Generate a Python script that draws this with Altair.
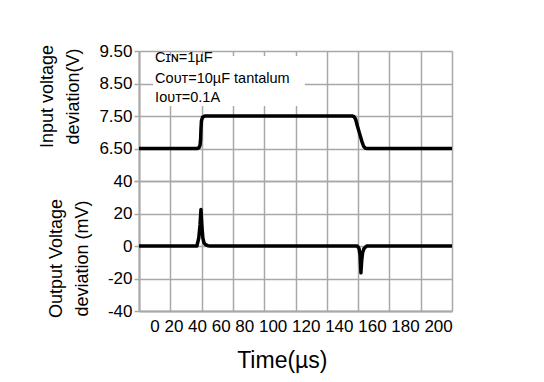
import altair as alt
import pandas as pd

# ---- data ----
t_in = [0, 37, 38.3, 39.0, 39.4, 39.6, 39.9, 40.6, 42, 136.2, 137.4, 138.4, 139.5, 141, 142.4, 143.5, 144.6, 146, 200]
v_in = [6.5, 6.5, 6.52, 6.6, 6.8, 7.1, 7.35, 7.46, 7.5, 7.5, 7.48, 7.4, 7.2, 6.95, 6.72, 6.57, 6.51, 6.5, 6.5]

t_out = [0, 37, 38.2, 39.0, 39.6, 40.2, 40.8, 41.5, 42.5, 44, 46, 139.5, 140.6, 141.3, 141.8, 142.3, 142.9, 143.8, 145.5, 200]
v_out = [0, 0, 5, 13, 22.5, 12, 5, 2, 0.8, 0.2, 0, 0, -1.5, -6, -16.5, -9, -4, -1.5, 0, 0]

x_tick_labels = ["0", "20", "40", "60", "80", "100", "120", "140", "160", "180", "200"]
x_grid = [0, 20, 40, 60, 80, 100, 120, 140, 160, 180, 200]
in_ticks = [5.5, 6.5, 7.5, 8.5, 9.5]
out_ticks = [-40, -20, 0, 20, 40]
notes = ["C\u026a\u0274=1\u00b5F", "C\u1d0f\u1d1c\u1d1b=10\u00b5F tantalum", "I\u1d0f\u1d1c\u1d1b=0.1A"]
note_y = [9.28, 8.64, 8.05]

GRID = "#a8a8a8"
FONT = "Liberation Sans"
W, H = 313, 130

df_in = pd.DataFrame({"t": t_in, "v": v_in})
df_out = pd.DataFrame({"t": t_out, "v": v_out})
df_notes = pd.DataFrame({"label": notes, "y": note_y})

xscale = alt.Scale(domain=[0, 200], nice=False, zero=False)
yscale_top = alt.Scale(domain=[5.5, 9.5], nice=False, zero=False)

top_x_axis = alt.Axis(values=x_grid, labels=False, ticks=False, domain=False, title=None,
                      grid=True, gridColor=GRID, gridWidth=1.5, gridOpacity=1)
top_y_axis = alt.Axis(values=in_ticks,
                      labelExpr="datum.value == 5.5 ? '' : format(datum.value, '.2f')",
                      tickSize=5, tickColor=GRID, tickWidth=1.5, labelPadding=2,
                      labelFontSize=17, domainColor=GRID, domainWidth=2,
                      grid=True, gridColor=GRID, gridWidth=1.5, gridOpacity=1,
                      title=["Input voltage", "deviation(V)"], titleFontSize=18,
                      titleFontWeight="normal", titleLineHeight=26, titlePadding=16, titleY=45)

top_line = alt.Chart(df_in).mark_line(color="black", strokeWidth=3.5, strokeJoin="round").encode(
    x=alt.X("t:Q", scale=xscale, axis=top_x_axis),
    y=alt.Y("v:Q", scale=yscale_top, axis=top_y_axis),
)

box = alt.Chart(pd.DataFrame({"a": [0]})).mark_rect(fill="white").encode(
    x=alt.X(datum=9, scale=xscale, axis=top_x_axis), x2=alt.X2(datum=106),
    y=alt.Y(datum=9.35, scale=yscale_top, axis=top_y_axis), y2=alt.Y2(datum=7.81),
)

txt = alt.Chart(df_notes).mark_text(align="left", baseline="middle", fontSize=14.5, font=FONT, color="black").encode(
    x=alt.X(datum=10.3, scale=xscale, axis=top_x_axis),
    y=alt.Y("y:Q", scale=yscale_top, axis=top_y_axis),
    text="label:N",
)

top = alt.layer(top_line, box, txt).properties(width=W, height=H)

bot_x_axis = alt.Axis(values=x_grid, labels=False, ticks=False, domain=True, domainColor=GRID, domainWidth=2,
                      grid=True, gridColor=GRID, gridWidth=1.5, gridOpacity=1,
                      title=" ".join(x_tick_labels), titleFontSize=17, titleFontWeight="normal",
                      titlePadding=7, titleX=162)
bot_y_axis = alt.Axis(values=out_ticks, tickSize=5, tickColor=GRID, tickWidth=1.5, labelPadding=2,
                      labelExpr="replace(datum.label, '\u2212', '-')",
                      labelFontSize=17, domainColor=GRID, domainWidth=2,
                      grid=True, gridColor=GRID, gridWidth=1.5, gridOpacity=1,
                      title=["Output Voltage", "deviation (mV)"], titleFontSize=18,
                      titleFontWeight="normal", titleLineHeight=26, titlePadding=16, titleY=77)

bottom = alt.Chart(df_out).mark_line(color="black", strokeWidth=3.5, strokeJoin="round").encode(
    x=alt.X("t:Q", scale=xscale, axis=bot_x_axis),
    y=alt.Y("v:Q", scale=alt.Scale(domain=[-40, 40], nice=False, zero=False), axis=bot_y_axis),
).properties(width=W, height=H)

chart = alt.vconcat(top, bottom, spacing=0, bounds="flush").properties(
    title=alt.TitleParams("Time(\u00b5s)", orient="bottom", anchor="middle", fontSize=23, fontWeight="normal",
                          font=FONT, color="black", offset=16, dx=36),
    padding={"left": 30, "top": 34, "right": 5, "bottom": 5},
).configure_view(stroke=None).configure_axis(
    labelFont=FONT, titleFont=FONT, labelColor="black", titleColor="black"
)

chart.save("out.html", embed_options={"renderer": "svg", "actions": False})
